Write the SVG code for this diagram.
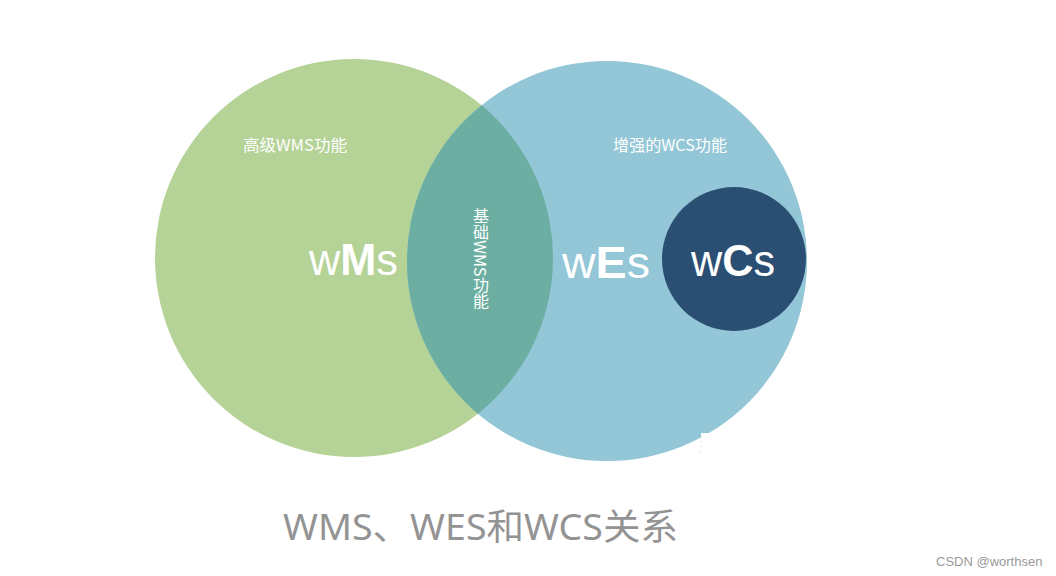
<svg xmlns="http://www.w3.org/2000/svg" width="1056" height="576" viewBox="0 0 1056 576">
  <style>
    .lbl { font-family: "Noto Sans CJK SC", "Noto Sans", sans-serif; font-size: 16px; fill: #ffffff; }
    .big { font-family: "Liberation Sans", Arial, sans-serif; font-size: 44px; fill: #ffffff; }
    .bold { font-weight: bold; font-size: 44px; }
    .title { font-family: "Noto Sans", "Noto Sans CJK SC", sans-serif; font-size: 36px; fill: #939393; }
    .wm { font-family: "Liberation Sans", Arial, sans-serif; font-size: 13px; fill: #9a9a9a; }
  </style>
  <defs>
    <clipPath id="greenClip">
      <circle cx="354" cy="258" r="199"/>
    </clipPath>
  </defs>
  <rect width="1056" height="576" fill="#ffffff"/>

  <g id="wms">
    <circle cx="354" cy="258" r="199" fill="#B5D297"/>
    <text class="lbl" x="243" y="151" textLength="104" lengthAdjust="spacingAndGlyphs">高级WMS功能</text>
    <text class="big" x="309" y="275" textLength="89" lengthAdjust="spacingAndGlyphs">w<tspan class="bold">M</tspan>s</text>
  </g>

  <g id="wes">
    <circle cx="607" cy="261" r="200" fill="#93C6D6"/>
    <text class="lbl" x="613" y="151" textLength="114" lengthAdjust="spacingAndGlyphs">增强的WCS功能</text>
    <text class="big" x="562" y="278" textLength="88" lengthAdjust="spacingAndGlyphs">w<tspan class="bold">E</tspan>s</text>
  </g>

  <g id="overlap">
    <circle cx="607" cy="261" r="200" fill="#6CAFA2" clip-path="url(#greenClip)"/>
    <text class="lbl" x="481" y="208" style="writing-mode: vertical-rl; font-size: 16px;">基础WMS功能</text>
  </g>

  <g id="wcs">
    <circle cx="734" cy="259" r="72" fill="#2B4F73"/>
    <text class="big" x="691" y="276" textLength="84" lengthAdjust="spacingAndGlyphs">w<tspan class="bold">C</tspan>s</text>
  </g>

  <g id="artifact">
    <rect x="701" y="433" width="110" height="40" fill="#ffffff"/>
    <line x1="701" y1="436" x2="701" y2="456" stroke="#cccccc" stroke-width="1" stroke-dasharray="1 4"/>
  </g>

  <g id="connectors"></g>

  <text class="title" x="283" y="540" textLength="395" lengthAdjust="spacingAndGlyphs">WMS、WES和WCS关系</text>
  <text class="wm" x="936" y="566">CSDN @worthsen</text>
</svg>
